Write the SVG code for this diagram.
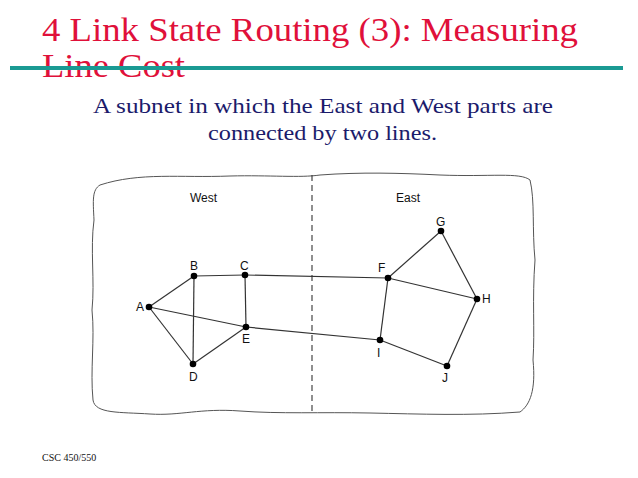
<svg xmlns="http://www.w3.org/2000/svg" width="638" height="478" viewBox="0 0 638 478">
<style>
.t{font-family:"Liberation Serif",serif;fill:#e0103a;font-size:34px}
.s{font-family:"Liberation Serif",serif;fill:#1b1b6b;font-size:21px}
.l{font-family:"Liberation Sans",Arial,sans-serif;font-size:12px;fill:#111}
.e{stroke:#333;stroke-width:1.2;fill:none}
.b{stroke:#555;stroke-width:1;fill:none}
.n{fill:#000}
</style>
<rect width="638" height="478" fill="#fff"/>
<text class="t" x="42" y="41" textLength="536" lengthAdjust="spacingAndGlyphs">4 Link State Routing (3): Measuring</text>
<text class="t" x="42" y="77" textLength="143" lengthAdjust="spacingAndGlyphs">Line Cost</text>
<line x1="10" y1="68" x2="623" y2="68" stroke="#1a9a93" stroke-width="4"/>
<text class="s" x="93" y="113" textLength="460" lengthAdjust="spacingAndGlyphs">A subnet in which the East and West parts are</text>
<text class="s" x="208" y="140" textLength="229" lengthAdjust="spacingAndGlyphs">connected by two lines.</text>
<text x="42" y="461" font-family="Liberation Serif,serif" font-size="10" fill="#111">CSC 450/550</text>
<path d="M100,185 C140,172 180,178 230,176 C270,175 300,178 320,175 C360,172 400,173 440,175 C490,177 520,172 530,180 C535,200 532,230 535,260 C532,300 535,330 533,360 C536,390 530,405 520,412 C470,416 420,414 370,413 C320,412 280,414 240,411 C200,408 180,416 150,414 C120,412 95,414 93,400 C90,370 95,340 92,310 C95,280 90,250 94,220 C93,200 92,190 100,185 Z" class="b"/>
<line x1="312" y1="175" x2="312" y2="413" stroke="#333" stroke-width="1.1" stroke-dasharray="6,4"/>
<text class="l" x="190" y="202">West</text>
<text class="l" x="396" y="202">East</text>
<g id="connectors" class="e">
<line x1="149" y1="307" x2="194" y2="276"/>
<line x1="149" y1="307" x2="193" y2="364"/>
<line x1="149" y1="307" x2="246" y2="327"/>
<line x1="194" y1="276" x2="245" y2="275"/>
<line x1="194" y1="276" x2="193" y2="364"/>
<line x1="245" y1="275" x2="388" y2="278"/>
<line x1="245" y1="275" x2="246" y2="327"/>
<line x1="193" y1="364" x2="246" y2="327"/>
<line x1="246" y1="327" x2="380" y2="340"/>
<line x1="388" y1="278" x2="441" y2="231"/>
<line x1="388" y1="278" x2="477" y2="299"/>
<line x1="388" y1="278" x2="380" y2="340"/>
<line x1="441" y1="231" x2="477" y2="299"/>
<line x1="477" y1="299" x2="447" y2="366"/>
<line x1="380" y1="340" x2="447" y2="366"/>
</g>
<g id="A"><circle class="n" cx="149" cy="307" r="3.3"/><text class="l" x="136" y="311">A</text></g>
<g id="B"><circle class="n" cx="194" cy="276" r="3.3"/><text class="l" x="190" y="270">B</text></g>
<g id="C"><circle class="n" cx="245" cy="275" r="3.3"/><text class="l" x="240" y="270">C</text></g>
<g id="D"><circle class="n" cx="193" cy="364" r="3.3"/><text class="l" x="189" y="381">D</text></g>
<g id="E"><circle class="n" cx="246" cy="327" r="3.3"/><text class="l" x="242" y="343">E</text></g>
<g id="F"><circle class="n" cx="388" cy="278" r="3.3"/><text class="l" x="378" y="272">F</text></g>
<g id="G"><circle class="n" cx="441" cy="231" r="3.3"/><text class="l" x="436" y="226">G</text></g>
<g id="H"><circle class="n" cx="477" cy="299" r="3.3"/><text class="l" x="482" y="303">H</text></g>
<g id="I"><circle class="n" cx="380" cy="340" r="3.3"/><text class="l" x="377" y="357">I</text></g>
<g id="J"><circle class="n" cx="447" cy="366" r="3.3"/><text class="l" x="442" y="382">J</text></g>
</svg>
